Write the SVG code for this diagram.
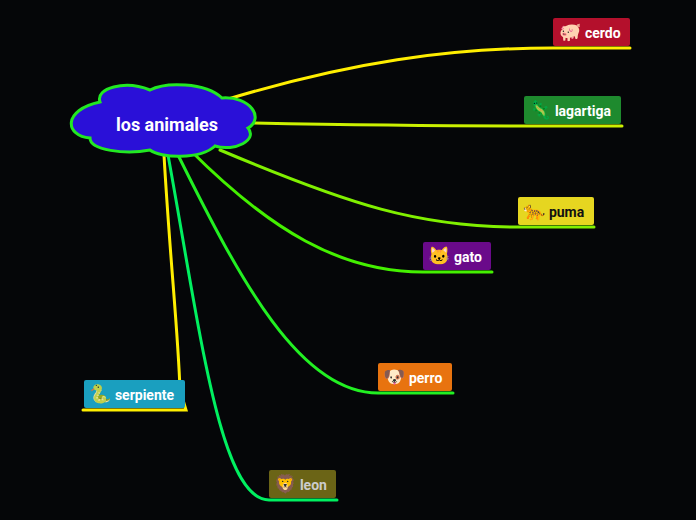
<svg xmlns="http://www.w3.org/2000/svg" width="696" height="520" viewBox="0 0 696 520">
<style>
text{font-family:Roboto,"Liberation Sans","Noto Color Emoji",sans-serif;font-weight:bold;font-size:14px}
.i{font-size:18px}
.e{fill:none;stroke-width:3;stroke-linecap:round}
</style>
<rect width="696" height="520" fill="#050608"/>
<g id="connectors">
<path class="e" stroke="#ffee00" d="M225,100 C350,62 450,48 553,48 L630,48"/>
<path class="e" stroke="#ccf000" d="M250,123 C400,126 450,126 524,126 L622,126"/>
<path class="e" stroke="#80f000" d="M220,150 C350,205 420,227 518,227 L594,227"/>
<path class="e" stroke="#44f000" d="M190,150 C270,230 340,272 423,272 L492,272"/>
<path class="e" stroke="#22f022" d="M178,155 C240,280 300,393 378,393 L453,393"/>
<path class="e" stroke="#00f060" d="M168,155 C200,330 220,500 269,500 L337,500"/>
<path class="e" stroke="#ffee00" d="M164,155 C170,260 178,330 180,390 L186,410 L83,410"/>
</g>
<g id="root">
<path d="M100,102 C95,88 125,80 150,90 C165,82 205,82 222,98 C250,96 265,118 248,128 C258,140 235,152 215,146 C200,160 160,158 150,150 C125,155 90,150 90,138 C65,136 62,110 100,102 Z" fill="#2a10d8" stroke="#22e822" stroke-width="3"/>
<text x="167" y="131" fill="#ffffff" style="font-size:18px" text-anchor="middle">los animales</text>
</g>
<g id="cerdo"><rect x="553" y="18" width="77" height="28" rx="2" fill="#b4102c"/><text x="559" y="38" fill="#fff"><tspan class="i">🐖</tspan> cerdo</text></g>
<g id="lagartiga"><rect x="524" y="96" width="97" height="28" rx="2" fill="#1e8a2e"/><text x="529" y="116" fill="#fff"><tspan class="i">🦎</tspan> lagartiga</text></g>
<g id="puma"><rect x="518" y="197" width="76" height="28" rx="2" fill="#e6d620"/><text x="523" y="217" fill="#111"><tspan class="i">🐆</tspan> puma</text></g>
<g id="gato"><rect x="423" y="242" width="68" height="28" rx="2" fill="#6a0a8a"/><text x="428" y="262" fill="#fff"><tspan class="i">🐱</tspan> gato</text></g>
<g id="perro"><rect x="378" y="363" width="74" height="28" rx="2" fill="#e8730f"/><text x="383" y="383" fill="#fff"><tspan class="i">🐶</tspan> perro</text></g>
<g id="serpiente"><rect x="84" y="380" width="101" height="28" rx="2" fill="#1a9fbf"/><text x="89" y="400" fill="#fff"><tspan class="i">🐍</tspan> serpiente</text></g>
<g id="leon"><rect x="269" y="470" width="67" height="28" rx="2" fill="#6b6416"/><text x="274" y="490" fill="#ccc"><tspan class="i">🦁</tspan> leon</text></g>
</svg>
